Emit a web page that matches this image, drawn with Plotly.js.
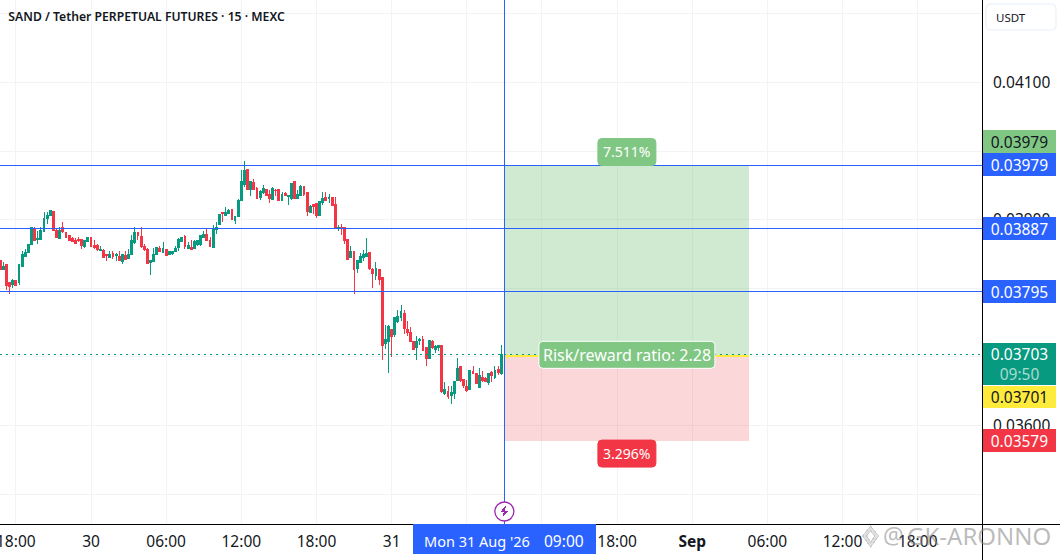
<!DOCTYPE html>
<html><head><meta charset="utf-8">
<script src="https://cdn.plot.ly/plotly-3.0.1.min.js"></script>
<style>html,body{margin:0;padding:0;background:#fff;overflow:hidden}#c{width:1060px;height:560px}</style>
</head><body><div id="c"></div><script>
// Prices are in units of 0.00001 USDT
const firstCandle = '2026-08-29T16:45:00Z';
const opens = [3841,3828,3835,3808,3805,3811,3808,3832,3846,3852,
3864,3887,3871,3871,3883,3902,3906,3912,3884,3873,
3889,3881,3877,3873,3870,3871,3871,3861,3868,3874,
3862,3862,3855,3855,3849,3845,3851,3848,3846,3839,
3848,3843,3849,3867,3881,3875,3861,3857,3838,3839,
3849,3858,3852,3857,3849,3850,3854,3859,3868,3875,
3858,3859,3858,3864,3864,3874,3879,3870,3860,3886,
3893,3910,3906,3909,3915,3899,3905,3928,3951,3973,
3944,3954,3945,3932,3940,3944,3937,3930,3943,3944,
3928,3938,3934,3931,3956,3931,3935,3948,3940,3911,
3922,3923,3906,3925,3932,3931,3932,3922,3887,3889,
3889,3871,3845,3854,3829,3837,3845,3847,3852,3827,
3819,3827,3815,3720,3723,3740,3733,3752,3757,3763,
3740,3735,3722,3714,3724,3725,3713,3698,3722,3711,
3714,3717,3647,3649,3644,3647,3665,3686,3667,3657,
3652,3679,3676,3655,3670,3668,3663,3677,3670,3682,3676];
const highs = [3841,3838,3836,3808,3813,3811,3836,3854,3858,3865,
3889,3889,3884,3889,3911,3911,3913,3913,3886,3889,
3896,3881,3878,3875,3873,3875,3871,3871,3875,3875,
3870,3864,3862,3857,3849,3855,3855,3851,3855,3849,
3855,3857,3877,3889,3881,3889,3864,3859,3840,3859,
3859,3861,3867,3858,3855,3855,3861,3873,3875,3877,
3867,3870,3870,3870,3878,3884,3886,3875,3892,3896,
3908,3911,3919,3915,3916,3906,3930,3973,3986,3973,
3956,3960,3947,3943,3951,3945,3943,3947,3945,3945,
3940,3940,3935,3953,3956,3943,3951,3948,3940,3922,
3923,3923,3927,3940,3941,3937,3932,3933,3892,3893,
3889,3871,3861,3854,3841,3851,3856,3874,3852,3829,
3838,3827,3815,3747,3747,3740,3757,3769,3775,3769,
3753,3743,3722,3731,3727,3731,3715,3725,3724,3718,
3718,3717,3664,3657,3657,3664,3698,3686,3667,3667,
3680,3686,3676,3684,3680,3670,3677,3680,3686,3687,3718];
const lows = [3828,3828,3797,3792,3801,3803,3805,3832,3845,3852,
3864,3870,3864,3871,3883,3893,3906,3884,3873,3873,
3881,3873,3870,3867,3865,3867,3857,3859,3868,3861,
3858,3855,3854,3845,3840,3845,3843,3840,3840,3835,
3842,3843,3848,3865,3870,3859,3855,3835,3820,3839,
3849,3854,3852,3848,3849,3849,3854,3854,3867,3857,
3858,3856,3858,3862,3862,3873,3870,3861,3859,3879,
3892,3896,3906,3908,3899,3894,3905,3927,3947,3944,
3934,3944,3930,3928,3938,3935,3924,3930,3934,3928,
3928,3934,3922,3928,3931,3931,3934,3935,3906,3911,
3909,3903,3906,3922,3928,3925,3921,3887,3884,3878,
3865,3842,3845,3791,3822,3837,3840,3847,3826,3800,
3812,3805,3695,3711,3677,3700,3729,3750,3753,3734,
3731,3722,3711,3695,3718,3708,3686,3698,3712,3706,
3708,3648,3645,3639,3632,3639,3665,3663,3655,3649,
3652,3675,3660,3655,3664,3663,3659,3663,3668,3673,3673];
const closes = [3828,3832,3804,3802,3811,3804,3835,3849,3852,3864,
3889,3870,3873,3884,3902,3906,3913,3884,3874,3884,
3883,3874,3870,3868,3865,3870,3862,3870,3874,3861,
3859,3857,3857,3845,3848,3849,3846,3849,3840,3849,
3842,3849,3870,3881,3877,3861,3857,3836,3840,3849,
3859,3854,3858,3848,3854,3854,3858,3871,3874,3861,
3862,3857,3868,3869,3877,3879,3870,3861,3886,3888,
3908,3909,3911,3913,3900,3905,3928,3956,3972,3944,
3956,3944,3931,3941,3945,3935,3931,3945,3942,3928,
3937,3935,3935,3953,3931,3937,3948,3937,3912,3919,
3919,3906,3927,3931,3928,3932,3921,3888,3889,3888,
3869,3842,3854,3828,3840,3846,3849,3851,3829,3821,
3829,3813,3716,3725,3744,3730,3757,3759,3766,3742,
3735,3722,3711,3722,3725,3709,3698,3724,3713,3715,
3716,3649,3652,3642,3648,3664,3683,3665,3658,3651,
3680,3676,3661,3673,3665,3664,3676,3673,3680,3677,3703];

const xTickDates = ['2026-08-29T18:00Z','2026-08-30T00:00Z','2026-08-30T06:00Z','2026-08-30T12:00Z','2026-08-30T18:00Z','2026-08-31T00:00Z','2026-08-31T06:00Z','2026-08-31T12:00Z','2026-08-31T18:00Z','2026-09-01T00:00Z','2026-09-01T06:00Z','2026-09-01T12:00Z','2026-09-01T18:00Z'];
const xTickLabels = ['','30','06:00','12:00','18:00','31','','','18:00','<b>Sep</b>','06:00','12:00','18:00'];
const yTickVals = [0.035,0.036,0.037,0.038,0.039,0.040,0.041,0.042];
const yTickLabels = ['','0.03600','','','0.03900','','0.04100',''];

const target = 3979, resistance = 3887, support = 3795, lastPrice = 3703, entry = 3701, stop = 3578;
const entryTime = '2026-08-31T09:00Z', boxEnd = '2026-09-01T04:34Z';
const title = 'SAND / Tether PERPETUAL FUTURES · 15 · MEXC';

const p = v => v / 1e5;
const t0 = Date.parse(firstCandle);
const times = opens.map((_, i) => new Date(t0 + i * 900000).toISOString());

const BLUE = '#2962FF', UP = '#089981', DOWN = '#F23645', GREENB = '#81C784', YEL = '#FFEB3B';
const FONT = '"Noto Sans", "Open Sans", sans-serif';

const trace = {
  type: 'candlestick', x: times,
  open: opens.map(p), high: highs.map(p), low: lows.map(p), close: closes.map(p),
  increasing: {line: {color: UP, width: 1}, fillcolor: UP},
  decreasing: {line: {color: DOWN, width: 1}, fillcolor: DOWN},
  whiskerwidth: 0, hoverinfo: 'skip', showlegend: false
};

function rr(cx, cy, w, h, r) { // rounded rect path in pixels about an anchor
  const l = cx - w / 2, rt = cx + w / 2, tp = cy + h / 2, b = cy - h / 2;
  return `M${l + r},${b} L${rt - r},${b} Q${rt},${b} ${rt},${b + r} L${rt},${tp - r} Q${rt},${tp} ${rt - r},${tp} L${l + r},${tp} Q${l},${tp} ${l},${tp - r} L${l},${b + r} Q${l},${b} ${l + r},${b} Z`;
}
const hl = (v, color, extra) => Object.assign({type: 'line', xref: 'paper', x0: 0, x1: 1, yref: 'y', y0: p(v), y1: p(v), line: {color, width: 1}}, extra || {});
const boxMidX = '2026-08-31T18:47Z';
const badge = (price, dy, w, h, fill, border) => ({
  type: 'path', layer: 'above', xref: 'x', yref: 'y', xsizemode: 'pixel', ysizemode: 'pixel',
  xanchor: boxMidX, yanchor: p(price), path: rr(0, -dy, w, h, 4),
  fillcolor: fill, line: {color: border || fill, width: 1}
});
const shapes = [
  {type: 'rect', layer: 'between', xref: 'x', yref: 'y', x0: entryTime, x1: boxEnd, y0: p(lastPrice - 2), y1: p(target), fillcolor: 'rgba(129,199,132,0.38)', line: {width: 0}},
  {type: 'rect', layer: 'between', xref: 'x', yref: 'y', x0: entryTime, x1: boxEnd, y0: p(stop), y1: p(lastPrice - 2), fillcolor: 'rgba(242,54,69,0.2)', line: {width: 0}},
  hl(target, BLUE), hl(resistance, BLUE), hl(support, BLUE),
  {type: 'line', xref: 'x', yref: 'y', x0: entryTime, x1: boxEnd, y0: p(entry), y1: p(entry), line: {color: YEL, width: 2}},
  hl(lastPrice, UP, {line: {color: UP, width: 1, dash: '1.5px,4.5px'}}),
  {type: 'line', xref: 'x', yref: 'paper', x0: entryTime, x1: entryTime, y0: 0, y1: 1, line: {color: BLUE, width: 1}},
  // price scale and time scale borders
  {type: 'line', xref: 'paper', yref: 'paper', x0: 1, x1: 1, y0: -0.0687, y1: 1, line: {color: '#000', width: 1}},
  {type: 'line', xref: 'paper', yref: 'paper', x0: 0, x1: 1.0794, y0: 0, y1: 0, line: {color: '#000', width: 1}},
  // position badges
  badge(target, -13.5, 58, 27, GREENB),
  badge(lastPrice, 0, 176, 27, GREENB, '#fff'),
  badge(stop, 13, 58, 27, DOWN),
  // event marker
  {type: 'circle', xref: 'x', yref: 'paper', xsizemode: 'pixel', ysizemode: 'pixel', xanchor: entryTime, yanchor: 0, x0: -9.5, x1: 9.5, y0: 3, y1: 22, fillcolor: '#fff', line: {color: '#9C27B0', width: 1.3}},
  {type: 'path', xref: 'x', yref: 'paper', xsizemode: 'pixel', ysizemode: 'pixel', xanchor: entryTime, yanchor: 0, path: 'M2,19 L-4,12 L-0.5,12 L-2,7 L4,13 L0.5,13 Z', fillcolor: '#9C27B0', line: {width: 0}},
  // entry arrow
  {type: 'path', xref: 'x', yref: 'y', xsizemode: 'pixel', ysizemode: 'pixel', xanchor: entryTime, yanchor: p(entry), path: 'M0,0 L4,3 L4,-3 Z', fillcolor: YEL, line: {width: 0}},
  // currency button
  {type: 'path', xref: 'paper', yref: 'paper', xsizemode: 'pixel', ysizemode: 'pixel', xanchor: 1, yanchor: 1, path: rr(39, -17, 70, 26, 5), fillcolor: '#fff', line: {color: '#F0F3FA', width: 1.5}},
  // crosshair date label
  {type: 'rect', xref: 'x', yref: 'paper', xsizemode: 'pixel', ysizemode: 'pixel', xanchor: entryTime, yanchor: 0, x0: -91, x1: 92, y0: 0, y1: -30, fillcolor: BLUE, line: {width: 0}},
  // watermark logo
  {type: 'path', xref: 'paper', yref: 'paper', xsizemode: 'pixel', ysizemode: 'pixel', xanchor: 0.8866, yanchor: 0, path: 'M0,-2 L8,-12 L0,-23 L-8,-12 Z M0,-7 L4,-12 L0,-18 L-4,-12 Z', fillcolor: 'rgba(170,170,170,0.35)', line: {color: 'rgba(170,170,170,0.5)', width: 1}}
];
const priceTag = (txt, v, bg, col, dy, h) => ({
  xref: 'paper', yref: 'y', x: 1, y: p(v), xanchor: 'left', xshift: 0.5, yshift: dy + 0.5, yanchor: 'middle',
  text: txt, showarrow: false, bgcolor: bg, width: 73, height: h, borderpad: 0, borderwidth: 0, align: 'center', valign: 'middle',
  font: {family: FONT, size: 15.5, color: col}
});
const annotations = [
  priceTag('0.03979', target, GREENB, '#131722', 23, 23),
  priceTag('0.03979', target, BLUE, '#fff', 0, 23),
  priceTag('0.03887', resistance, BLUE, '#fff', 0, 23),
  priceTag('0.03795', support, BLUE, '#fff', 0, 23),
  priceTag('0.03703<br><span style="color:#A8DCCF">09:50</span>', lastPrice, UP, '#fff', -10, 42),
  priceTag('0.03701', entry, YEL, '#131722', -41, 22),
  priceTag('0.03579', stop, DOWN, '#fff', 0, 23),
  {xref: 'x', yref: 'y', x: boxMidX, y: p(target), yshift: 13.5, yanchor: 'middle', text: '7.511%', showarrow: false, font: {family: FONT, size: 14, color: '#fff'}},
  {xref: 'x', yref: 'y', x: boxMidX, y: p(lastPrice), yanchor: 'middle', text: 'Risk/reward ratio: 2.28', showarrow: false, font: {family: FONT, size: 16, color: '#fff'}},
  {xref: 'x', yref: 'y', x: boxMidX, y: p(stop), yshift: -13, yanchor: 'middle', text: '3.296%', showarrow: false, font: {family: FONT, size: 14, color: '#fff'}},
  {xref: 'x', yref: 'paper', x: entryTime, y: 0, yanchor: 'middle', yshift: -17, xshift: -27, text: "Mon 31 Aug '26", showarrow: false, font: {family: FONT, size: 14.5, color: '#fff'}},
  {xref: 'x', yref: 'paper', x: entryTime, y: 0, yanchor: 'middle', yshift: -17, xshift: 60, text: '09:00', showarrow: false, font: {family: FONT, size: 15.5, color: '#fff'}},
  {xref: 'paper', yref: 'paper', x: 1, y: 1, xanchor: 'left', yanchor: 'middle', xshift: 12, yshift: -17, text: 'USDT', showarrow: false, font: {family: FONT, size: 11.5, color: '#131722'}},
  {xref: 'x', yref: 'paper', x: xTickDates[0], y: 0, yanchor: 'middle', yshift: -17, text: '18:00', showarrow: false, font: {family: FONT, size: 15.5, color: '#131722'}},
  {xref: 'paper', yref: 'paper', x: 1.0794, y: 0, xanchor: 'right', yanchor: 'middle', xshift: -7, yshift: -11, text: 'GK-ARONNO', showarrow: false, font: {family: FONT, size: 24, color: 'rgba(130,130,130,0.55)'}},
  {xref: 'paper', yref: 'paper', x: 0.9094, y: 0, xanchor: 'center', yanchor: 'middle', yshift: -11, text: '@', showarrow: false, font: {family: FONT, size: 23, color: 'rgba(130,130,130,0.55)'}}
];
const layout = {
  width: 1060, height: 560, autosize: false,
  margin: {l: 0, r: 78, t: 0, b: 36, pad: 0},
  paper_bgcolor: '#fff', plot_bgcolor: '#fff', showlegend: false, hovermode: false, dragmode: false,
  boxgap: 0.15,
  font: {family: FONT, size: 15, color: '#131722'},
  title: {text: title, x: 0.0085, xref: 'paper', xanchor: 'left', y: 0.97, yref: 'container', yanchor: 'middle', font: {family: FONT, size: 12.2, weight: 600, color: '#131722'}},
  xaxis: {type: 'date', range: ['2026-08-29T16:44Z', '2026-09-01T23:08Z'], rangeslider: {visible: false},
    tickmode: 'array', tickvals: xTickDates, ticktext: xTickLabels, showgrid: true, gridcolor: '#F2F3F5', gridwidth: 1,
    zeroline: false, showline: false, ticks: '', ticklabelstandoff: 6, tickfont: {family: FONT, size: 15.5, color: '#131722'}, fixedrange: true},
  yaxis: {side: 'right', range: [0.034564, 0.0422023], tickmode: 'array', tickvals: yTickVals, ticktext: yTickLabels,
    showgrid: true, gridcolor: '#F2F3F5', gridwidth: 1, zeroline: false, showline: false, ticks: '', ticklabelstandoff: 10,
    tickfont: {family: FONT, size: 15.5, color: '#131722'}, fixedrange: true},
  shapes, annotations
};
Plotly.newPlot('c', [trace], layout, {displayModeBar: false, staticPlot: true}).then(gd => {
  gd.querySelectorAll('.shapelayer path').forEach(el => {
    const d = el.getAttribute('d') || '';
    if (!/[QA]/.test(d)) el.style.shapeRendering = 'crispEdges';
  });
  gd.querySelectorAll('.boxlayer path').forEach(el => { el.style.shapeRendering = 'crispEdges'; });
});
</script></body></html>
